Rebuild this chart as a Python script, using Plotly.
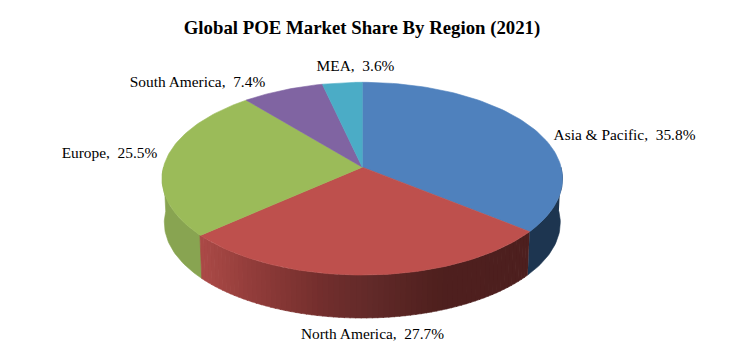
import numpy as np
import plotly.graph_objects as go

# ---- data ----
regions = ["Asia & Pacific", "North America", "Europe", "South America", "MEA"]
shares = [35.8, 27.7, 25.5, 7.4, 3.6]
top_colors = ["#4F81BD", "#BE504D", "#9BBB59", "#8064A2", "#4BACC6"]
label_xy = [(624.5, 136.5), (372.5, 335.5), (109.5, 154.5), (197.5, 83.5), (355.5, 67.5)]
title = "Global POE Market Share By Region (2021)"

# side-wall shading (stop position in angle-independent screen x, colour)
side_red_x = [203, 260, 320, 370, 440, 527]
side_red_rgb = [(171, 74, 71), (143, 59, 57), (116, 47, 46), (98, 42, 41), (79, 32, 30), (77, 31, 30)]
side_green_x = [163, 203]
side_green_rgb = [(136, 164, 81), (136, 164, 81)]
side_blue = "#1D3550"

# ---- perspective disc geometry ----
CX, K = 362.3, 0.119
PAGE_INSET = 8  # the page body's default margin; axis ranges compensate for it


def project(theta, r, h, cy):
    w = 1 + K * np.cos(theta)
    return CX + r * np.sin(theta) / w, cy - h * np.cos(theta) / w


TOP = (198.8, 95.0, 167.2)
RIM = (196.6, 94.0, 211.3)

edges = np.radians(np.concatenate([[0], np.cumsum(shares)]) / sum(shares) * 360)

fig = go.Figure()


def poly(xs, ys, color):
    fig.add_trace(go.Scatter(
        x=xs, y=ys, mode="lines", fill="toself", fillcolor=color,
        line=dict(color=color, width=0.6), hoverinfo="skip", showlegend=False))


def wall(t0, t1, color, n=8):
    th = np.linspace(t0, t1, n)
    x0, y0 = project(th, *TOP)
    x1, y1 = project(th[::-1], *RIM)
    poly(np.r_[x0, x1], np.r_[y0, y1], color)


# side wall, visible front half only (right extreme -> left extreme)
right_edge = np.pi / 2 + np.arcsin(K)
left_edge = 2 * np.pi - right_edge
wall(right_edge - 0.12, edges[1], side_blue, 30)
wall(edges[2], left_edge + 0.12, "#88A451", 40)


def shaded(t0, t1, xs, rgbs, n):
    bounds = np.linspace(t0, t1, n + 1)
    for a, b in zip(bounds[:-1], bounds[1:]):
        xm = project((a + b) / 2, *RIM)[0]
        c = [int(np.interp(xm, xs, [q[i] for q in rgbs])) for i in range(3)]
        wall(a, b + 0.004, f"rgb({c[0]},{c[1]},{c[2]})")


shaded(edges[1], edges[2], side_red_x, side_red_rgb, 70)

# top face
for i, col in enumerate(top_colors):
    th = np.linspace(edges[i], edges[i + 1], 80)
    x, y = project(th, *TOP)
    poly(np.r_[CX, x, CX], np.r_[TOP[2], y, TOP[2]], col)

# labels
fig.add_trace(go.Scatter(
    x=[p[0] for p in label_xy], y=[p[1] for p in label_xy], mode="text",
    text=[f"{n},\u00a0\u00a0{s}%" for n, s in zip(regions, shares)],
    textposition="middle center",
    textfont=dict(family="Liberation Serif", size=15.4, color="#000000"),
    hoverinfo="skip", showlegend=False))

fig.update_layout(
    width=749, height=364, autosize=False,
    margin=dict(l=0, r=0, t=0, b=0),
    paper_bgcolor="white", plot_bgcolor="white",
    xaxis=dict(range=[PAGE_INSET, 749 + PAGE_INSET], visible=False, fixedrange=True),
    yaxis=dict(range=[364 + PAGE_INSET, PAGE_INSET], visible=False, fixedrange=True),
    title=dict(text=f"<b>{title}</b>", x=(362 - PAGE_INSET) / 749, xanchor="center",
               y=1 - (27.5 - PAGE_INSET) / 364, yanchor="middle",
               font=dict(family="Liberation Serif", size=18.8, color="#000000")),
)
fig.write_html("out.html", config={"displayModeBar": False})
